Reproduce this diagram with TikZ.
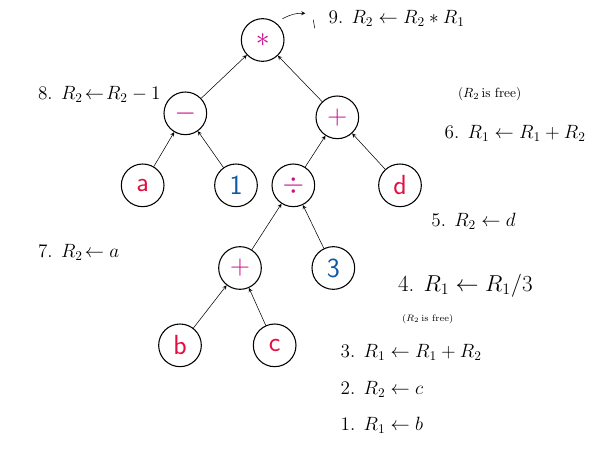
\documentclass[tikz,border=0pt]{standalone}
\usepackage{xcolor}
\definecolor{opmag}{rgb}{0.80,0.05,0.55}
\definecolor{leafred}{rgb}{0.90,0.05,0.25}
\definecolor{numblue}{rgb}{0.05,0.35,0.65}
\begin{document}
\begin{tikzpicture}[line cap=round,line join=round,>=stealth,x=1pt,y=-1pt,
  nd/.style={circle,draw,thick,minimum size=32pt,inner sep=0pt,font=\huge\sffamily},
  lbl/.style={font=\Large,anchor=west}]
\useasboundingbox (0,0) rectangle (450,345);
% tree nodes
\node[nd,text=opmag] (mul) at (197,30) {$*$};
\node[nd,text=opmag] (sub) at (139,85) {$-$};
\node[nd,text=opmag] (add) at (253,88) {$+$};
\node[nd,text=leafred] (a) at (107,139) {a};
\node[nd,text=numblue] (one) at (177,139) {1};
\node[nd,text=opmag] (div) at (220,139) {$\div$};
\node[nd,text=leafred] (d) at (300,139) {d};
\node[nd,text=opmag] (add2) at (180,201) {$+$};
\node[nd,text=numblue] (three) at (250,201) {3};
\node[nd,text=leafred] (b) at (135,259) {b};
\node[nd,text=leafred] (c) at (206,259) {c};
% edges
\draw[->] (sub) -- (mul);
\draw[->] (add) -- (mul);
\draw[->] (a) -- (sub);
\draw[->] (one) -- (sub);
\draw[->] (div) -- (add);
\draw[->] (d) -- (add);
\draw[->] (add2) -- (div);
\draw[->] (three) -- (div);
\draw[->] (b) -- (add2);
\draw[->] (c) -- (add2);
\coordinate (tip) at (229,10);
\draw[->] (212,14) to[bend left=15] (tip);
\draw (235,15) -- (236,21);
% register steps
\node[lbl] (s9) at (243,14) {9. $R_2 \leftarrow R_2 * R_1$};
\node[lbl] (s8) at (25,71) {8. $R_2\!\leftarrow\!R_2 - 1$};
\node[lbl,font=\normalsize] (f1) at (340,71) {$(R_2\,\mathrm{is\ free})$};
\node[lbl] (s6) at (330,100) {6. $R_1 \leftarrow R_1 + R_2$};
\node[lbl] (s5) at (320,166) {5. $R_2 \leftarrow d$};
\node[lbl] (s7) at (25,189) {7. $R_2\!\leftarrow a$};
\node[lbl,font=\LARGE] (s4) at (295,214) {4. $R_1 \leftarrow R_1/3$};
\node[lbl,font=\scriptsize] (f2) at (298,239) {$(R_2\,\mathrm{is\ free})$};
\node[lbl] (s3) at (252,264) {3. $R_1 \leftarrow R_1 + R_2$};
\node[lbl] (s2) at (252,292) {2. $R_2 \leftarrow c$};
\node[lbl] (s1) at (252,319) {1. $R_1 \leftarrow b$};
\end{tikzpicture}
\end{document}
